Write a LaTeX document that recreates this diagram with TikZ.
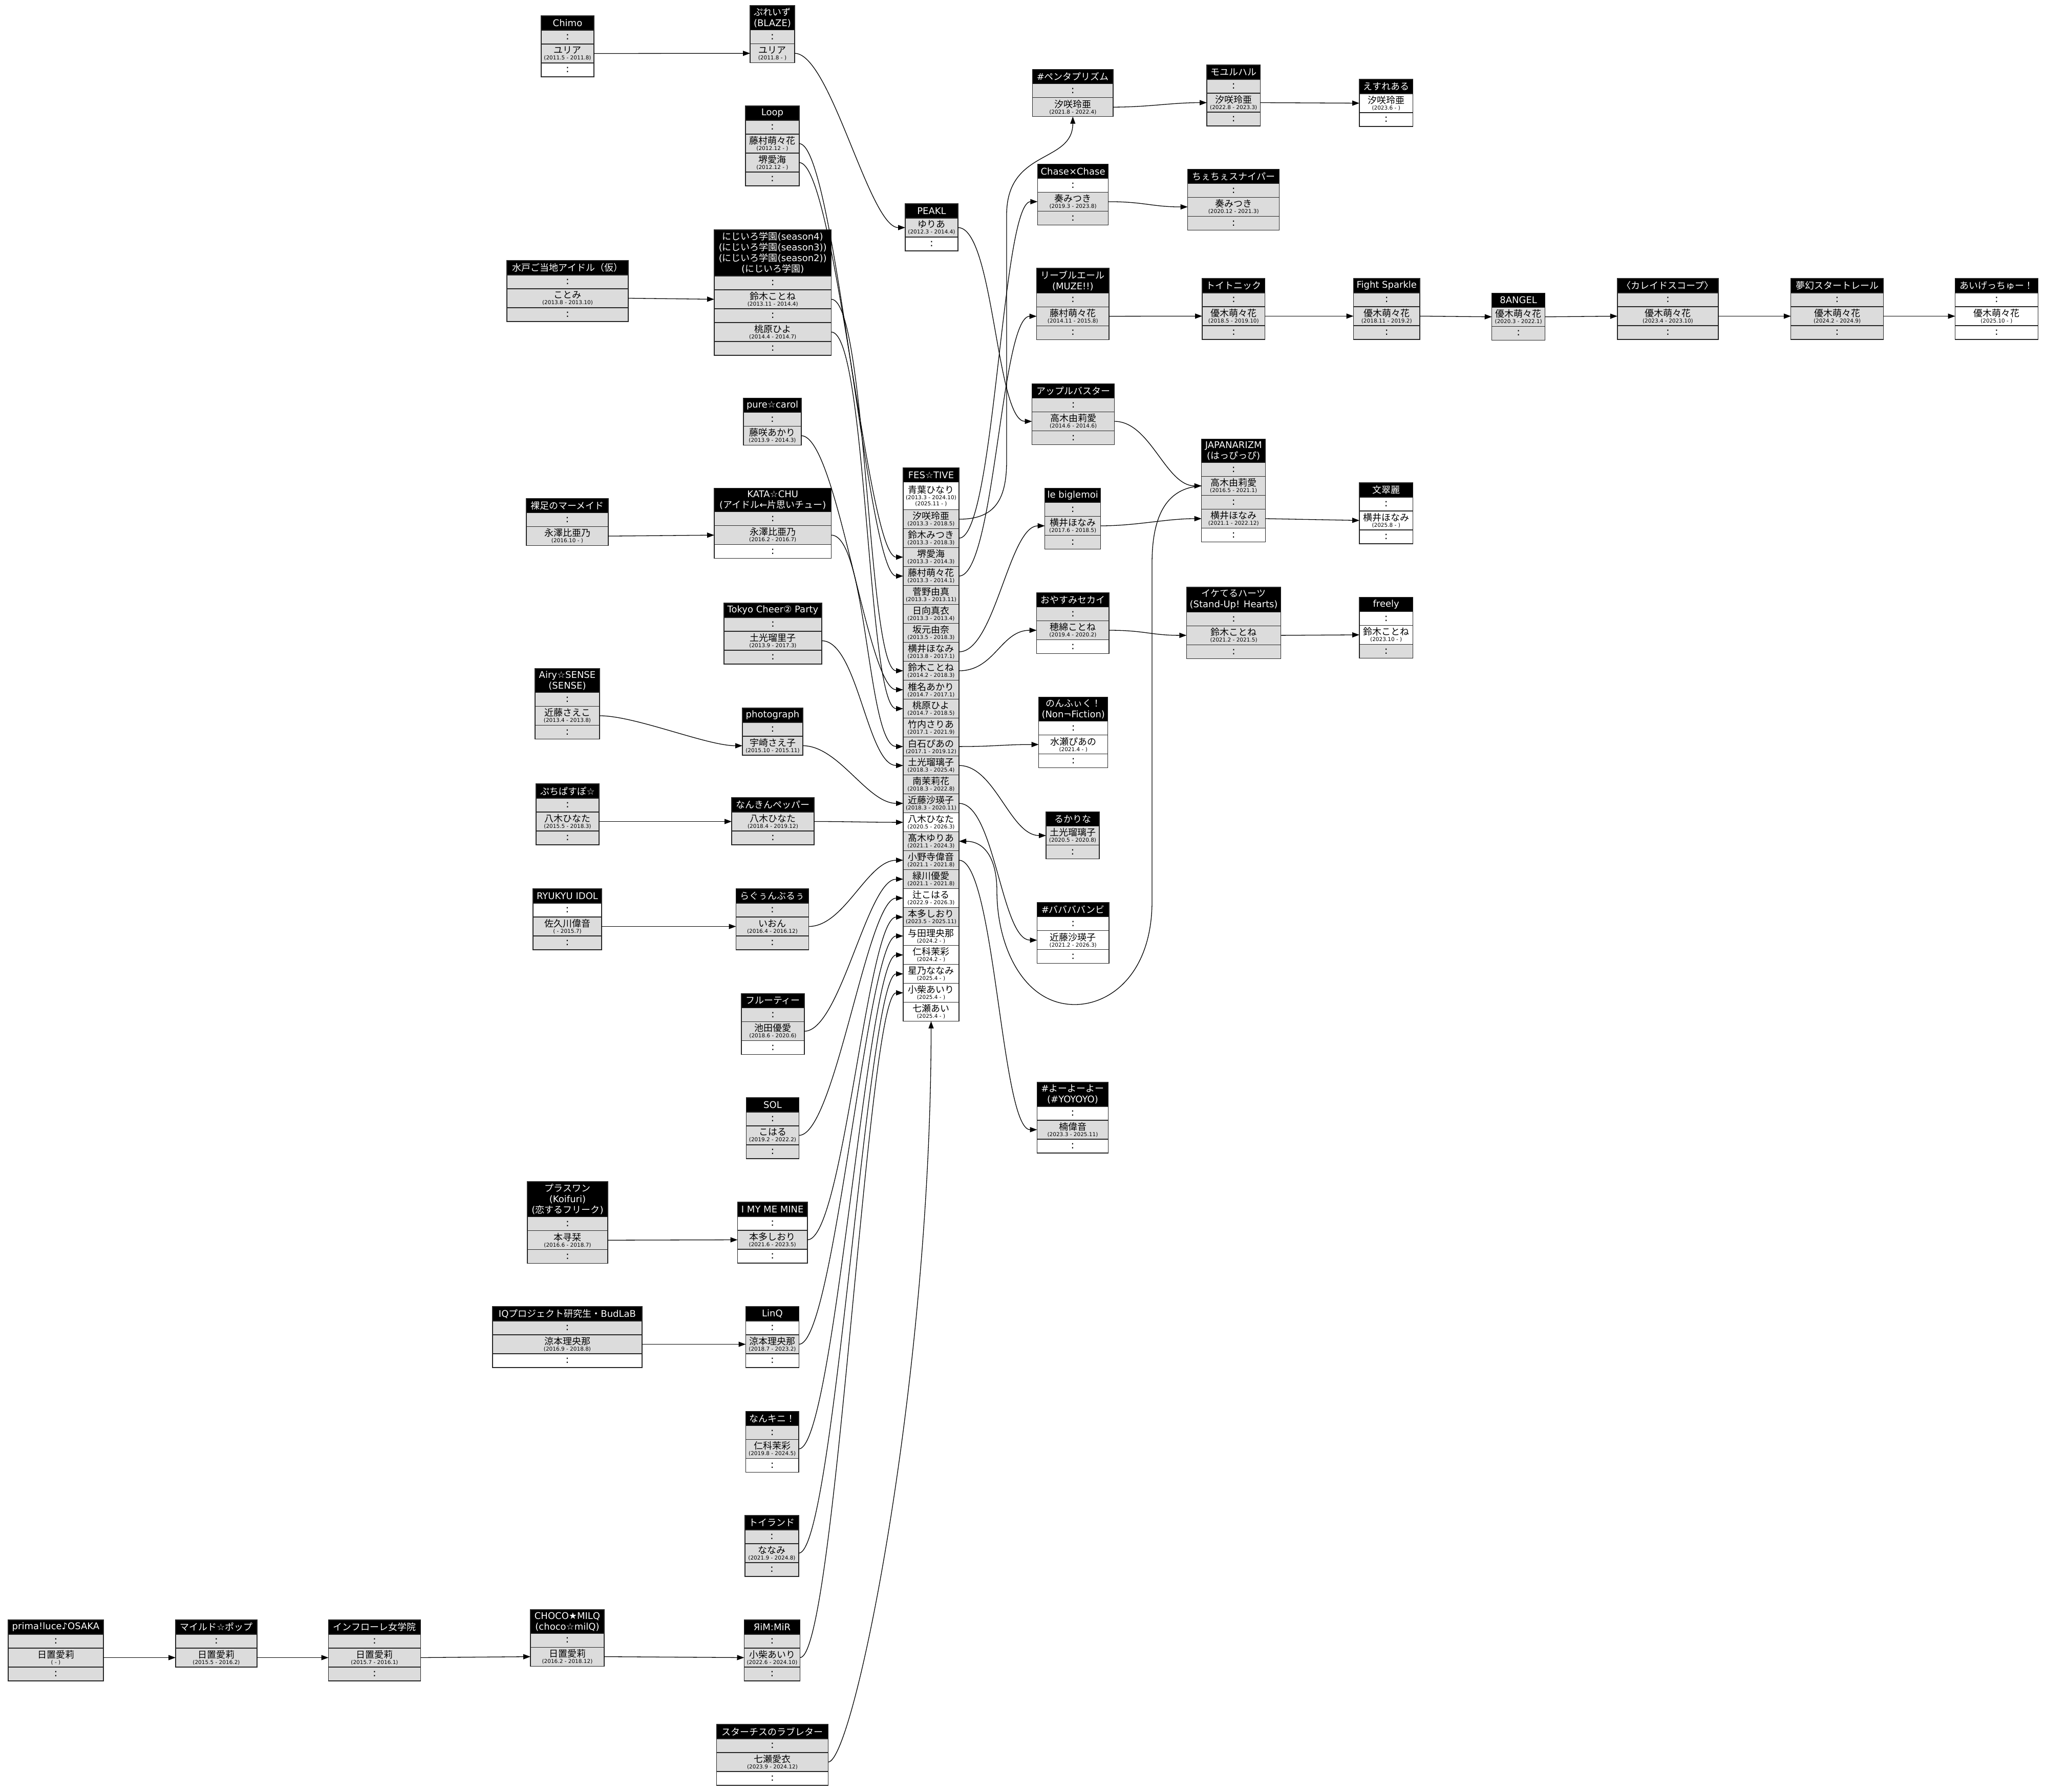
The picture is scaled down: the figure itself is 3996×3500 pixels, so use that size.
\documentclass[tikz,border=0pt]{standalone}
\usepackage{fontspec}
\setmainfont{DejaVu Sans}
\newfontfamily\latinfont{DejaVu Sans}
\newfontfamily\jpfont{Noto Sans CJK JP}
\usepackage{xcolor}
\usetikzlibrary{arrows.meta, positioning}

\definecolor{rowgrey}{HTML}{DCDCDC}
\newcommand{\hdfont}{\fontsize{4.5}{5.25}\selectfont}
\newcommand{\nmfont}{\fontsize{4.5}{4.5}\selectfont}
\newcommand{\dtfont}{\fontsize{2.625}{3}\selectfont}
\newcommand{\dotfont}{\fontsize{5}{5}\selectfont}
\newcommand{\mem}[2]{{\nmfont #1}\\(#2)}

% kana and kanji go to the Japanese face
\newXeTeXintercharclass\jpclass
\newcount\jpcode
\jpcode="3000
\loop\ifnum\jpcode<"A000
  \XeTeXcharclass\jpcode=\jpclass
  \advance\jpcode by 1
\repeat
\jpcode="FF00
\loop\ifnum\jpcode<"FFF0
  \XeTeXcharclass\jpcode=\jpclass
  \advance\jpcode by 1
\repeat
\XeTeXinterchartoks 0 \jpclass = {\jpfont}
\XeTeXinterchartoks 4095 \jpclass = {\jpfont}
\XeTeXinterchartoks \jpclass 0 = {\latinfont}
\XeTeXinterchartoks \jpclass 4095 = {\latinfont}

\begin{document}
\XeTeXinterchartokenstate=1
\begin{tikzpicture}[x=0.25pt, y=-0.25pt,
    hd/.style={anchor=north west, fill=black, draw=black!85, line width=0.3pt, outer sep=0pt, text=white, font=\hdfont, align=center, minimum width=#1*0.25pt, minimum height=7pt, inner xsep=0pt, inner ysep=1.175pt},
    cellbox/.style={draw=black!85, line width=0.3pt, outer sep=0pt, minimum width=#1*0.25pt, inner sep=0pt, align=center},
    gd/.style={cellbox=#1, fill=rowgrey, minimum height=6.75pt, font=\dotfont},
    wd/.style={cellbox=#1, fill=white, minimum height=6.75pt, font=\dotfont},
    gm/.style={cellbox=#1, fill=rowgrey, minimum height=9.25pt, font=\dtfont},
    wm/.style={cellbox=#1, fill=white, minimum height=9.25pt, font=\dtfont},
    lk/.style={draw=black, line width=0.325pt, -{Triangle[length=3.5pt,width=2.5pt]}},
    scurve/.style={out=0, in=180, distance=17.5pt}]
  \useasboundingbox (0,0) rectangle (3996,3500);

  % left column
  \node[hd=103] (chimo) at (1057,31) {Chimo};
  \node[gd=103, below=0pt of chimo] (chimo-a) {:};
  \node[gm=103, below=0pt of chimo-a] (chimo-yuria) {\mem{ユリア}{2011.5 - 2011.8}};
  \node[wd=103, below=0pt of chimo-yuria] (chimo-b) {:};

  \node[hd=237] (mito) at (990,509) {水戸ご当地アイドル（仮）};
  \node[gd=237, below=0pt of mito] (mito-a) {:};
  \node[gm=237, below=0pt of mito-a] (mito-kotomi) {\mem{ことみ}{2013.8 - 2013.10}};
  \node[gd=237, below=0pt of mito-kotomi] (mito-b) {:};

  \node[hd=160] (hadashi) at (1028,973.6) {裸足のマーメイド};
  \node[gd=160, below=0pt of hadashi] (hadashi-a) {:};
  \node[gm=160, below=0pt of hadashi-a] (hadashi-hiano) {\mem{永澤比亜乃}{2016.10 - }};

  \node[hd=126] (airy) at (1045,1306) {Airy☆SENSE\\(SENSE)};
  \node[gd=126, below=0pt of airy] (airy-a) {:};
  \node[gm=126, below=0pt of airy-a] (airy-saeko) {\mem{近藤さえこ}{2013.4 - 2013.8}};
  \node[gd=126, below=0pt of airy-saeko] (airy-b) {:};

  \node[hd=123] (puchi) at (1047,1531) {ぷちぱすぽ☆};
  \node[gd=123, below=0pt of puchi] (puchi-a) {:};
  \node[gm=123, below=0pt of puchi-a] (puchi-yagi) {\mem{八木ひなた}{2015.5 - 2018.3}};
  \node[gd=123, below=0pt of puchi-yagi] (puchi-b) {:};

  \node[hd=134] (ryukyu) at (1041,1736) {RYUKYU IDOL};
  \node[wd=134, below=0pt of ryukyu] (ryukyu-a) {:};
  \node[gm=134, below=0pt of ryukyu-a] (ryukyu-ion) {\mem{佐久川偉音}{ - 2015.7}};
  \node[gd=134, below=0pt of ryukyu-ion] (ryukyu-b) {:};

  \node[hd=157] (plus) at (1030,2308) {プラスワン\\(Koifuri)\\(恋するフリーク)};
  \node[gd=157, below=0pt of plus] (plus-a) {:};
  \node[gm=157, below=0pt of plus-a] (plus-shiori) {\mem{本寻栞}{2016.6 - 2018.7}};
  \node[gd=157, below=0pt of plus-shiori] (plus-b) {:};

  \node[hd=292] (iq) at (962,2552) {IQプロジェクト研究生・BudLaB};
  \node[gd=292, below=0pt of iq] (iq-a) {:};
  \node[gm=292, below=0pt of iq-a] (iq-riona) {\mem{涼本理央那}{2016.9 - 2018.8}};
  \node[wd=292, below=0pt of iq-riona] (iq-b) {:};

  % bottom row
  \node[hd=186] (prima) at (16,3164) {prima!luce♪OSAKA};
  \node[gd=186, below=0pt of prima] (prima-a) {:};
  \node[gm=186, below=0pt of prima-a] (prima-airi) {\mem{日置愛莉}{ - }};
  \node[gd=186, below=0pt of prima-airi] (prima-b) {:};

  \node[hd=159] (mild) at (343,3164) {マイルド☆ポップ};
  \node[gd=159, below=0pt of mild] (mild-a) {:};
  \node[gm=159, below=0pt of mild-a] (mild-airi) {\mem{日置愛莉}{2015.5 - 2016.2}};

  \node[hd=180] (inflo) at (641.5,3164) {インフローレ女学院};
  \node[gd=180, below=0pt of inflo] (inflo-a) {:};
  \node[gm=180, below=0pt of inflo-a] (inflo-airi) {\mem{日置愛莉}{2015.7 - 2016.1}};
  \node[gd=180, below=0pt of inflo-airi] (inflo-b) {:};

  \node[hd=144] (choco) at (1036,3144) {CHOCO★MILQ\\(choco☆milQ)};
  \node[gd=144, below=0pt of choco] (choco-a) {:};
  \node[gm=144, below=0pt of choco-a] (choco-airi) {\mem{日置愛莉}{2016.2 - 2018.12}};

  % second column
  \node[hd=87] (blaze) at (1465,11) {ぷれいず\\(BLAZE)};
  \node[gd=87, below=0pt of blaze] (blaze-a) {:};
  \node[gm=87, below=0pt of blaze-a] (blaze-yuria) {\mem{ユリア}{2011.8 - }};

  \node[hd=105] (loop) at (1456,207) {Loop};
  \node[gd=105, below=0pt of loop] (loop-a) {:};
  \node[gm=105, below=0pt of loop-a] (loop-fuji) {\mem{藤村萌々花}{2012.12 - }};
  \node[gm=105, below=0pt of loop-fuji] (loop-sakai) {\mem{堺愛海}{2012.12 - }};
  \node[gd=105, below=0pt of loop-sakai] (loop-b) {:};

  \node[hd=228.5] (niji) at (1395,449) {にじいろ学園(season4)\\(にじいろ学園(season3))\\(にじいろ学園(season2))\\(にじいろ学園)};
  \node[gd=228.5, below=0pt of niji] (niji-a) {:};
  \node[gm=228.5, below=0pt of niji-a] (niji-kotone) {\mem{鈴木ことね}{2013.11 - 2014.4}};
  \node[gd=228.5, below=0pt of niji-kotone] (niji-b) {:};
  \node[gm=228.5, below=0pt of niji-b] (niji-momo) {\mem{桃原ひよ}{2014.4 - 2014.7}};
  \node[gd=228.5, below=0pt of niji-momo] (niji-c) {:};

  \node[hd=113] (pure) at (1452,777.5) {pure☆carol};
  \node[gd=113, below=0pt of pure] (pure-a) {:};
  \node[gm=113, below=0pt of pure-a] (pure-akari) {\mem{藤咲あかり}{2013.9 - 2014.3}};

  \node[hd=228.5] (kata) at (1395,953.5) {KATA☆CHU\\(アイドル←片思いチュー)};
  \node[gd=228.5, below=0pt of kata] (kata-a) {:};
  \node[gm=228.5, below=0pt of kata-a] (kata-hiano) {\mem{永澤比亜乃}{2016.2 - 2016.7}};
  \node[wd=228.5, below=0pt of kata-hiano] (kata-b) {:};

  \node[hd=191] (tokyo) at (1414,1178) {Tokyo Cheer② Party};
  \node[gd=191, below=0pt of tokyo] (tokyo-a) {:};
  \node[gm=191, below=0pt of tokyo-a] (tokyo-doko) {\mem{土光瑠里子}{2013.9 - 2017.3}};
  \node[gd=191, below=0pt of tokyo-doko] (tokyo-b) {:};

  \node[hd=118] (photo) at (1450,1383) {photograph};
  \node[gd=118, below=0pt of photo] (photo-a) {:};
  \node[gm=118, below=0pt of photo-a] (photo-saeko) {\mem{宇崎さえ子}{2015.10 - 2015.11}};

  \node[hd=161] (nankin) at (1429,1558) {なんきんペッパー};
  \node[gm=161, below=0pt of nankin] (nankin-yagi) {\mem{八木ひなた}{2018.4 - 2019.12}};
  \node[gd=161, below=0pt of nankin-yagi] (nankin-a) {:};

  \node[hd=142] (lagoon) at (1437.5,1736) {らぐぅんぶるぅ};
  \node[gd=142, below=0pt of lagoon] (lagoon-a) {:};
  \node[gm=142, below=0pt of lagoon-a] (lagoon-ion) {\mem{いおん}{2016.4 - 2016.12}};
  \node[gd=142, below=0pt of lagoon-ion] (lagoon-b) {:};

  \node[hd=123] (fruity) at (1448,1940.6) {フルーティー};
  \node[gd=123, below=0pt of fruity] (fruity-a) {:};
  \node[gm=123, below=0pt of fruity-a] (fruity-yua) {\mem{池田優愛}{2018.6 - 2020.6}};
  \node[wd=123, below=0pt of fruity-yua] (fruity-b) {:};

  \node[hd=103] (sol) at (1457.5,2144) {SOL};
  \node[gd=103, below=0pt of sol] (sol-a) {:};
  \node[gm=103, below=0pt of sol-a] (sol-koharu) {\mem{こはる}{2019.2 - 2022.2}};
  \node[gd=103, below=0pt of sol-koharu] (sol-b) {:};

  \node[hd=136.5] (imyme) at (1440.5,2348) {I MY ME MINE};
  \node[wd=136.5, below=0pt of imyme] (imyme-a) {:};
  \node[gm=136.5, below=0pt of imyme-a] (imyme-shiori) {\mem{本多しおり}{2021.6 - 2023.5}};
  \node[wd=136.5, below=0pt of imyme-shiori] (imyme-b) {:};

  \node[hd=104] (linq) at (1456.5,2552) {LinQ};
  \node[wd=104, below=0pt of linq] (linq-a) {:};
  \node[gm=104, below=0pt of linq-a] (linq-riona) {\mem{涼本理央那}{2018.7 - 2023.2}};
  \node[wd=104, below=0pt of linq-riona] (linq-b) {:};

  \node[hd=103.5] (nankini) at (1456.5,2756.5) {なんキニ！};
  \node[gd=103.5, below=0pt of nankini] (nankini-a) {:};
  \node[gm=103.5, below=0pt of nankini-a] (nankini-masa) {\mem{仁科茉彩}{2019.8 - 2024.5}};
  \node[wd=103.5, below=0pt of nankini-masa] (nankini-b) {:};

  \node[hd=105] (toyland) at (1455,2960) {トイランド};
  \node[gd=105, below=0pt of toyland] (toyland-a) {:};
  \node[gm=105, below=0pt of toyland-a] (toyland-nanami) {\mem{ななみ}{2021.9 - 2024.8}};
  \node[gd=105, below=0pt of toyland-nanami] (toyland-b) {:};

  \node[hd=109] (rim) at (1453.5,3164) {ЯiM:MiR};
  \node[gd=109, below=0pt of rim] (rim-a) {:};
  \node[gm=109, below=0pt of rim-a] (rim-airi) {\mem{小柴あいり}{2022.6 - 2024.10}};
  \node[gd=109, below=0pt of rim-airi] (rim-b) {:};

  \node[hd=218] (statice) at (1399.5,3368) {スターチスのラブレター};
  \node[gd=218, below=0pt of statice] (statice-a) {:};
  \node[gm=218, below=0pt of statice-a] (statice-ai) {\mem{七瀬愛衣}{2023.9 - 2024.12}};
  \node[wd=218, below=0pt of statice-ai] (statice-b) {:};

  % PEAKL
  \node[hd=103] (peakl) at (1768,398) {PEAKL};
  \node[gm=103, below=0pt of peakl] (peakl-yuria) {\mem{ゆりあ}{2012.3 - 2014.4}};
  \node[wd=103, below=0pt of peakl-yuria] (peakl-a) {:};

  % FES☆TIVE
  \node[hd=109] (fes) at (1764,913.6) {FES☆TIVE};
  \node[wm=109, minimum height=13.5pt, below=0pt of fes] (fes-aoba) {{\nmfont 青葉ひなり}\\(2013.3 - 2024.10)\\(2025.11 - )};
  \node[gm=109, below=0pt of fes-aoba] (fes-shio) {\mem{汐咲玲亜}{2013.3 - 2018.5}};
  \node[gm=109, below=0pt of fes-shio] (fes-mitsuki) {\mem{鈴木みつき}{2013.3 - 2018.3}};
  \node[gm=109, below=0pt of fes-mitsuki] (fes-sakai) {\mem{堺愛海}{2013.3 - 2014.3}};
  \node[gm=109, below=0pt of fes-sakai] (fes-fuji) {\mem{藤村萌々花}{2013.3 - 2014.1}};
  \node[gm=109, below=0pt of fes-fuji] (fes-sugano) {\mem{菅野由真}{2013.3 - 2013.11}};
  \node[gm=109, below=0pt of fes-sugano] (fes-hyuga) {\mem{日向真衣}{2013.3 - 2013.4}};
  \node[gm=109, below=0pt of fes-hyuga] (fes-saka) {\mem{坂元由奈}{2013.5 - 2018.3}};
  \node[gm=109, below=0pt of fes-saka] (fes-yokoi) {\mem{横井ほなみ}{2013.8 - 2017.1}};
  \node[gm=109, below=0pt of fes-yokoi] (fes-kotone) {\mem{鈴木ことね}{2014.2 - 2018.3}};
  \node[gm=109, below=0pt of fes-kotone] (fes-shiina) {\mem{椎名あかり}{2014.7 - 2017.1}};
  \node[gm=109, below=0pt of fes-shiina] (fes-momo) {\mem{桃原ひよ}{2014.7 - 2018.5}};
  \node[gm=109, below=0pt of fes-momo] (fes-take) {\mem{竹内さりあ}{2017.1 - 2021.9}};
  \node[gm=109, below=0pt of fes-take] (fes-piano) {\mem{白石ぴあの}{2017.1 - 2019.12}};
  \node[gm=109, below=0pt of fes-piano] (fes-doko) {\mem{土光瑠璃子}{2018.3 - 2025.4}};
  \node[gm=109, below=0pt of fes-doko] (fes-minami) {\mem{南茉莉花}{2018.3 - 2022.8}};
  \node[gm=109, below=0pt of fes-minami] (fes-kondo) {\mem{近藤沙瑛子}{2018.3 - 2020.11}};
  \node[wm=109, below=0pt of fes-kondo] (fes-yagi) {\mem{八木ひなた}{2020.5 - 2026.3}};
  \node[gm=109, below=0pt of fes-yagi] (fes-takagi) {\mem{髙木ゆりあ}{2021.1 - 2024.3}};
  \node[gm=109, below=0pt of fes-takagi] (fes-onodera) {\mem{小野寺偉音}{2021.1 - 2021.8}};
  \node[gm=109, below=0pt of fes-onodera] (fes-midori) {\mem{緑川優愛}{2021.1 - 2021.8}};
  \node[wm=109, below=0pt of fes-midori] (fes-tsuji) {\mem{辻こはる}{2022.9 - 2026.3}};
  \node[gm=109, below=0pt of fes-tsuji] (fes-honda) {\mem{本多しおり}{2023.5 - 2025.11}};
  \node[wm=109, below=0pt of fes-honda] (fes-yoda) {\mem{与田理央那}{2024.2 - }};
  \node[wm=109, below=0pt of fes-yoda] (fes-nishina) {\mem{仁科茉彩}{2024.2 - }};
  \node[wm=109, below=0pt of fes-nishina] (fes-hoshino) {\mem{星乃ななみ}{2025.4 - }};
  \node[wm=109, below=0pt of fes-hoshino] (fes-koshiba) {\mem{小柴あいり}{2025.4 - }};
  \node[wm=109, below=0pt of fes-koshiba] (fes-nanase) {\mem{七瀬あい}{2025.4 - }};

  % right of FES
  \node[hd=157.4] (penta) at (2016.6,135.7) {\#ペンタプリズム};
  \node[gd=157.4, below=0pt of penta] (penta-a) {:};
  \node[gm=157.4, below=0pt of penta-a] (penta-shio) {\mem{汐咲玲亜}{2021.8 - 2022.4}};

  \node[hd=138.3] (chase) at (2026.4,320.4) {Chase×Chase};
  \node[wd=138.3, below=0pt of chase] (chase-a) {:};
  \node[gm=138.3, below=0pt of chase-a] (chase-kanade) {\mem{奏みつき}{2019.3 - 2023.8}};
  \node[gd=138.3, below=0pt of chase-kanade] (chase-b) {:};

  \node[hd=141.3] (libre) at (2024.7,524) {リーブルエール\\(MUZE!!)};
  \node[gd=141.3, below=0pt of libre] (libre-a) {:};
  \node[gm=141.3, below=0pt of libre-a] (libre-fuji) {\mem{藤村萌々花}{2014.11 - 2015.8}};
  \node[gd=141.3, below=0pt of libre-fuji] (libre-b) {:};

  \node[hd=161.3] (apple) at (2015.5,749.5) {アップルバスター};
  \node[gd=161.3, below=0pt of apple] (apple-a) {:};
  \node[gm=161.3, below=0pt of apple-a] (apple-takagi) {\mem{高木由莉愛}{2014.6 - 2014.6}};
  \node[gd=161.3, below=0pt of apple-takagi] (apple-b) {:};

  \node[hd=109] (bigle) at (2040.7,953.5) {le biglemoi};
  \node[gd=109, below=0pt of bigle] (bigle-a) {:};
  \node[gm=109, below=0pt of bigle-a] (bigle-yokoi) {\mem{横井ほなみ}{2017.6 - 2018.5}};
  \node[gd=109, below=0pt of bigle-yokoi] (bigle-b) {:};

  \node[hd=141.3] (oyasumi) at (2024.7,1157.5) {おやすみセカイ};
  \node[gd=141.3, below=0pt of oyasumi] (oyasumi-a) {:};
  \node[gm=141.3, below=0pt of oyasumi-a] (oyasumi-kotone) {\mem{穂綿ことね}{2019.4 - 2020.2}};
  \node[wd=141.3, below=0pt of oyasumi-kotone] (oyasumi-b) {:};

  \node[hd=135] (nonfic) at (2028.7,1361.4) {のんふぃく！\\(Non¬Fiction)};
  \node[wd=135, below=0pt of nonfic] (nonfic-a) {:};
  \node[wm=135, below=0pt of nonfic-a] (nonfic-piano) {\mem{水瀬ぴあの}{2021.4 - }};
  \node[wd=135, below=0pt of nonfic-piano] (nonfic-b) {:};

  \node[hd=104] (rukari) at (2043,1585.4) {るかりな};
  \node[gm=104, below=0pt of rukari] (rukari-doko) {\mem{土光瑠璃子}{2020.5 - 2020.8}};
  \node[gd=104, below=0pt of rukari-doko] (rukari-a) {:};

  \node[hd=140.5] (bamby) at (2025.5,1762.7) {\#ババババンビ};
  \node[wd=140.5, below=0pt of bamby] (bamby-a) {:};
  \node[wm=140.5, below=0pt of bamby-a] (bamby-kondo) {\mem{近藤沙瑛子}{2021.2 - 2026.3}};
  \node[wd=140.5, below=0pt of bamby-kondo] (bamby-b) {:};

  \node[hd=139] (yoyoyo) at (2025.5,2114) {\#よーよーよー\\(\#YOYOYO)};
  \node[wd=139, below=0pt of yoyoyo] (yoyoyo-a) {:};
  \node[gm=139, below=0pt of yoyoyo-a] (yoyoyo-ion) {\mem{楠偉音}{2023.3 - 2025.11}};
  \node[wd=139, below=0pt of yoyoyo-ion] (yoyoyo-b) {:};

  % further right
  \node[hd=104.5] (moyu) at (2357,127) {モユルハル};
  \node[gd=104.5, below=0pt of moyu] (moyu-a) {:};
  \node[gm=104.5, below=0pt of moyu-a] (moyu-shio) {\mem{汐咲玲亜}{2022.8 - 2023.3}};
  \node[gd=104.5, below=0pt of moyu-shio] (moyu-b) {:};

  \node[hd=179] (chechi) at (2319.7,330.6) {ちぇちぇスナイパー};
  \node[gd=179, below=0pt of chechi] (chechi-a) {:};
  \node[gm=179, below=0pt of chechi-a] (chechi-kanade) {\mem{奏みつき}{2020.12 - 2021.3}};
  \node[gd=179, below=0pt of chechi-kanade] (chechi-b) {:};

  \node[hd=122.7] (toito) at (2348,543.9) {トイトニック};
  \node[gd=122.7, below=0pt of toito] (toito-a) {:};
  \node[gm=122.7, below=0pt of toito-a] (toito-yuki) {\mem{優木萌々花}{2018.5 - 2019.10}};
  \node[gd=122.7, below=0pt of toito-yuki] (toito-b) {:};

  \node[hd=125] (japan) at (2346.7,857.6) {JAPANARIZM\\(はっぴっぴ)};
  \node[gd=125, below=0pt of japan] (japan-a) {:};
  \node[gm=125, below=0pt of japan-a] (japan-takagi) {\mem{高木由莉愛}{2016.5 - 2021.1}};
  \node[gd=125, below=0pt of japan-takagi] (japan-b) {:};
  \node[gm=125, below=0pt of japan-b] (japan-yokoi) {\mem{横井ほなみ}{2021.1 - 2022.12}};
  \node[wd=125, below=0pt of japan-yokoi] (japan-c) {:};

  \node[hd=184.3] (iketeru) at (2317.4,1147) {イケてるハーツ\\(Stand-Up! Hearts)};
  \node[gd=184.3, below=0pt of iketeru] (iketeru-a) {:};
  \node[gm=184.3, below=0pt of iketeru-a] (iketeru-kotone) {\mem{鈴木ことね}{2021.2 - 2021.5}};
  \node[gd=184.3, below=0pt of iketeru-kotone] (iketeru-b) {:};

  \node[hd=104.4] (esu) at (2655,155) {えすれある};
  \node[wm=104.4, below=0pt of esu] (esu-shio) {\mem{汐咲玲亜}{2023.6 - }};
  \node[wd=104.4, below=0pt of esu-shio] (esu-a) {:};

  \node[hd=129.5] (fight) at (2643.5,543.9) {Fight Sparkle};
  \node[gd=129.5, below=0pt of fight] (fight-a) {:};
  \node[gm=129.5, below=0pt of fight-a] (fight-yuki) {\mem{優木萌々花}{2018.11 - 2019.2}};
  \node[gd=129.5, below=0pt of fight-yuki] (fight-b) {:};

  \node[hd=104.4] (bunsui) at (2655,943) {文翠麗};
  \node[wd=104.4, below=0pt of bunsui] (bunsui-a) {:};
  \node[wm=104.4, below=0pt of bunsui-a] (bunsui-yokoi) {\mem{横井ほなみ}{2025.8 - }};
  \node[wd=104.4, below=0pt of bunsui-yokoi] (bunsui-b) {:};

  \node[hd=104.4] (freely) at (2655,1166.4) {freely};
  \node[wd=104.4, below=0pt of freely] (freely-a) {:};
  \node[wm=104.4, below=0pt of freely-a] (freely-kotone) {\mem{鈴木ことね}{2023.10 - }};
  \node[gd=104.4, below=0pt of freely-kotone] (freely-b) {:};

  \node[hd=104] (angel) at (2913.7,572.3) {8ANGEL};
  \node[gm=104, below=0pt of angel] (angel-yuki) {\mem{優木萌々花}{2020.3 - 2022.1}};
  \node[gd=104, below=0pt of angel-yuki] (angel-a) {:};

  \node[hd=197] (kaleido) at (3158.9,544) {〈カレイドスコープ〉};
  \node[gd=197, below=0pt of kaleido] (kaleido-a) {:};
  \node[gm=197, below=0pt of kaleido-a] (kaleido-yuki) {\mem{優木萌々花}{2023.4 - 2023.10}};
  \node[gd=197, below=0pt of kaleido-yuki] (kaleido-b) {:};

  \node[hd=180.5] (mugen) at (3497.8,544) {夢幻スタートレール};
  \node[gd=180.5, below=0pt of mugen] (mugen-a) {:};
  \node[gm=180.5, below=0pt of mugen-a] (mugen-yuki) {\mem{優木萌々花}{2024.2 - 2024.9}};
  \node[gd=180.5, below=0pt of mugen-yuki] (mugen-b) {:};

  \node[hd=161.6] (aiget) at (3818.6,544) {あいげっちゅー！};
  \node[wd=161.6, below=0pt of aiget] (aiget-a) {:};
  \node[wm=161.6, below=0pt of aiget-a] (aiget-yuki) {\mem{優木萌々花}{2025.10 - }};
  \node[wd=161.6, below=0pt of aiget-yuki] (aiget-b) {:};

  % links into FES
  \draw[lk] (chimo-yuria.east) -- (blaze-yuria.west);
  \draw[lk] (blaze-yuria.east) to[scurve] (peakl-yuria.west);
  \draw[lk] (mito-kotomi.east) -- (niji-kotone.west);
  \draw[lk] (loop-fuji.east) to[scurve] (fes-fuji.west);
  \draw[lk] (loop-sakai.east) to[scurve] (fes-sakai.west);
  \draw[lk] (niji-kotone.east) to[scurve] (fes-kotone.west);
  \draw[lk] (niji-momo.east) to[scurve] (fes-momo.west);
  \draw[lk] (pure-akari.east) to[scurve] (fes-shiina.west);
  \draw[lk] (hadashi-hiano.east) -- (kata-hiano.west);
  \draw[lk] (kata-hiano.east) to[scurve] (fes-piano.west);
  \draw[lk] (tokyo-doko.east) to[scurve] (fes-doko.west);
  \draw[lk] (airy-saeko.east) to[scurve] (photo-saeko.west);
  \draw[lk] (photo-saeko.east) to[scurve] (fes-kondo.west);
  \draw[lk] (puchi-yagi.east) -- (nankin-yagi.west);
  \draw[lk] (nankin-yagi.east) to[scurve] (fes-yagi.west);
  \draw[lk] (ryukyu-ion.east) -- (lagoon-ion.west);
  \draw[lk] (lagoon-ion.east) to[scurve] (fes-onodera.west);
  \draw[lk] (fruity-yua.east) to[scurve] (fes-midori.west);
  \draw[lk] (sol-koharu.east) to[scurve] (fes-tsuji.west);
  \draw[lk] (plus-shiori.east) -- (imyme-shiori.west);
  \draw[lk] (imyme-shiori.east) to[scurve] (fes-honda.west);
  \draw[lk] (iq-riona.east) -- (linq-riona.west);
  \draw[lk] (linq-riona.east) to[scurve] (fes-yoda.west);
  \draw[lk] (nankini-masa.east) to[scurve] (fes-nishina.west);
  \draw[lk] (toyland-nanami.east) to[scurve] (fes-hoshino.west);
  \draw[lk] (prima-airi.east) -- (mild-airi.west);
  \draw[lk] (mild-airi.east) -- (inflo-airi.west);
  \draw[lk] (inflo-airi.east) -- (choco-airi.west);
  \draw[lk] (choco-airi.east) -- (rim-airi.west);
  \draw[lk] (rim-airi.east) to[scurve] (fes-koshiba.west);
  \draw[lk] (statice-ai.east) to[out=0, in=-90, out distance=12.5pt, in distance=175pt] (fes-nanase.south);

  % links out of FES
  \draw[lk] (fes-shio.east) .. controls (1940,1014) and (1966,980) .. (1966,900) -- (1966,420) .. controls (1966,290) and (2095,320) .. (penta-shio.south);
  \draw[lk] (fes-mitsuki.east) to[scurve] (chase-kanade.west);
  \draw[lk] (fes-fuji.east) to[scurve] (libre-fuji.west);
  \draw[lk] (peakl-yuria.east) to[scurve] (apple-takagi.west);
  \draw[lk] (fes-yokoi.east) to[scurve] (bigle-yokoi.west);
  \draw[lk] (fes-kotone.east) to[scurve] (oyasumi-kotone.west);
  \draw[lk] (fes-piano.east) to[scurve] (nonfic-piano.west);
  \draw[lk] (fes-doko.east) to[scurve] (rukari-doko.west);
  \draw[lk] (fes-kondo.east) to[scurve] (bamby-kondo.west);
  \draw[lk] (fes-onodera.east) to[scurve] (yoyoyo-ion.west);
  \draw[lk] (japan-takagi.west) .. controls (2290,952) and (2250,990) .. (2250,1100) -- (2250,1760) .. controls (2250,1900) and (2170,1962) .. (2099,1962) .. controls (2000,1962) and (1947,1850) .. (1947,1740) .. controls (1947,1680) and (1925,1643) .. (fes-takagi.east);

  % chains on the right
  \draw[lk] (penta-shio.east) to[scurve] (moyu-shio.west);
  \draw[lk] (moyu-shio.east) -- (esu-shio.west);
  \draw[lk] (chase-kanade.east) to[scurve] (chechi-kanade.west);
  \draw[lk] (libre-fuji.east) -- (toito-yuki.west);
  \draw[lk] (toito-yuki.east) -- (fight-yuki.west);
  \draw[lk] (fight-yuki.east) -- (angel-yuki.west);
  \draw[lk] (angel-yuki.east) -- (kaleido-yuki.west);
  \draw[lk] (kaleido-yuki.east) -- (mugen-yuki.west);
  \draw[lk] (mugen-yuki.east) -- (aiget-yuki.west);
  \draw[lk] (apple-takagi.east) to[scurve] (japan-takagi.west);
  \draw[lk] (bigle-yokoi.east) to[scurve] (japan-yokoi.west);
  \draw[lk] (japan-yokoi.east) -- (bunsui-yokoi.west);
  \draw[lk] (oyasumi-kotone.east) to[scurve] (iketeru-kotone.west);
  \draw[lk] (iketeru-kotone.east) -- (freely-kotone.west);
\end{tikzpicture}
\end{document}
